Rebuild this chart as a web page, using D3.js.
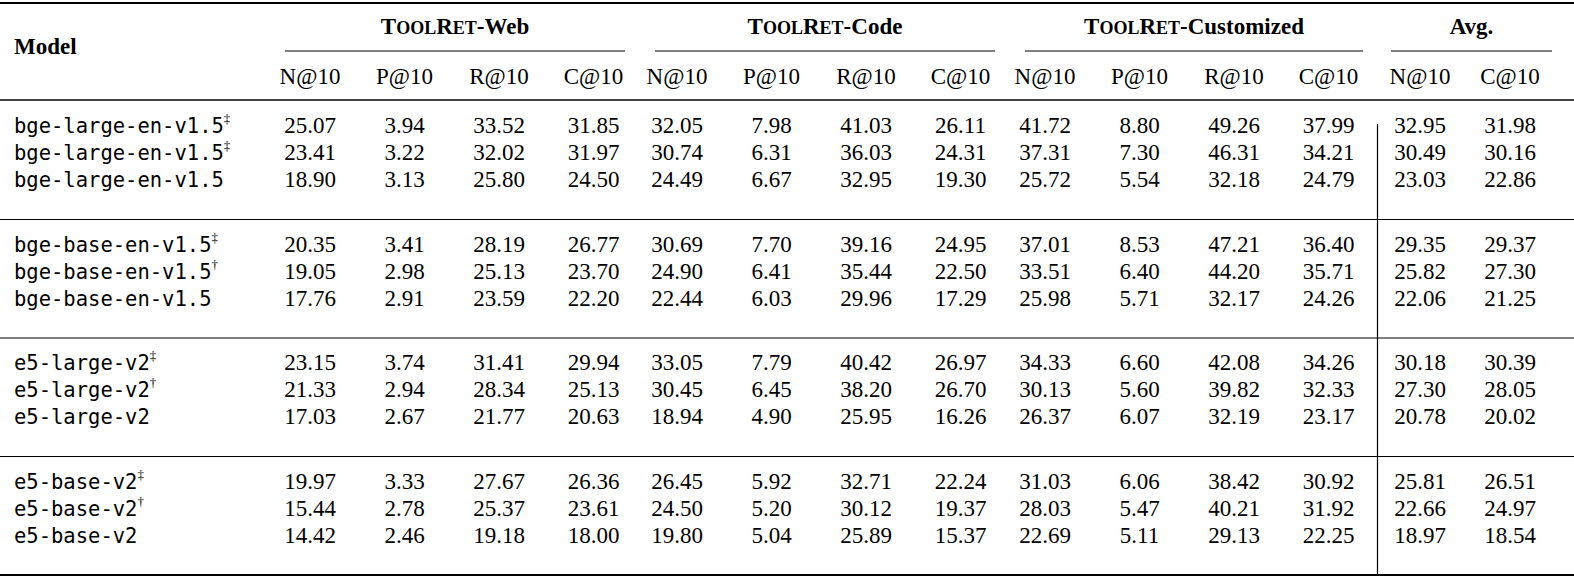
<!DOCTYPE html>
<html><head><meta charset="utf-8">
<script src="https://cdn.jsdelivr.net/npm/d3@7/dist/d3.min.js"></script>
<style>body{margin:0;background:#fff}</style></head>
<body><svg id="c" width="1574" height="582"></svg>
<script>
const groups = ["Web","Code","Customized","Avg."];
const metrics = [["N@10","P@10","R@10","C@10"],["N@10","P@10","R@10","C@10"],["N@10","P@10","R@10","C@10"],["N@10","C@10"]];
const models = ["bge-large-en-v1.5","bge-large-en-v1.5","bge-large-en-v1.5","bge-base-en-v1.5","bge-base-en-v1.5","bge-base-en-v1.5","e5-large-v2","e5-large-v2","e5-large-v2","e5-base-v2","e5-base-v2","e5-base-v2"];
const marks = ["‡","‡","","‡","†","","‡","†","","‡","†",""];
const values = [
[25.07,3.94,33.52,31.85,32.05,7.98,41.03,26.11,41.72,8.80,49.26,37.99,32.95,31.98],
[23.41,3.22,32.02,31.97,30.74,6.31,36.03,24.31,37.31,7.30,46.31,34.21,30.49,30.16],
[18.90,3.13,25.80,24.50,24.49,6.67,32.95,19.30,25.72,5.54,32.18,24.79,23.03,22.86],
[20.35,3.41,28.19,26.77,30.69,7.70,39.16,24.95,37.01,8.53,47.21,36.40,29.35,29.37],
[19.05,2.98,25.13,23.70,24.90,6.41,35.44,22.50,33.51,6.40,44.20,35.71,25.82,27.30],
[17.76,2.91,23.59,22.20,22.44,6.03,29.96,17.29,25.98,5.71,32.17,24.26,22.06,21.25],
[23.15,3.74,31.41,29.94,33.05,7.79,40.42,26.97,34.33,6.60,42.08,34.26,30.18,30.39],
[21.33,2.94,28.34,25.13,30.45,6.45,38.20,26.70,30.13,5.60,39.82,32.33,27.30,28.05],
[17.03,2.67,21.77,20.63,18.94,4.90,25.95,16.26,26.37,6.07,32.19,23.17,20.78,20.02],
[19.97,3.33,27.67,26.36,26.45,5.92,32.71,22.24,31.03,6.06,38.42,30.92,25.81,26.51],
[15.44,2.78,25.37,23.61,24.50,5.20,30.12,19.37,28.03,5.47,40.21,31.92,22.66,24.97],
[14.42,2.46,19.18,18.00,19.80,5.04,25.89,15.37,22.69,5.11,29.13,22.25,18.97,18.54]];

const svg = d3.select("#c");
const serif = "'Liberation Serif','Times New Roman',serif";
const mono = "'DejaVu Sans Mono',monospace";
const cols = [];
metrics.forEach((m,g)=>m.forEach((name,i)=>cols.push({g,i,name})));
const groupStart = d3.scaleOrdinal().domain([0,1,2,3]).range([310,677,1045,1420]);
const colX = k => { const c = cols[k]; return groupStart(c.g) + c.i*(c.g===3 ? 90 : 94.5); };
const groupTop = d3.scaleLinear().domain([0,4]).range([101,575]);
const yRow = r => groupTop(Math.floor(r/3)) + 32 + (r%3)*27;

function line(x1,x2,y,w){svg.append("line").attr("x1",x1).attr("x2",x2).attr("y1",y).attr("y2",y).attr("stroke","#000").attr("stroke-width",w);}
line(0,1574,3,2.2);
line(0,1574,100,1.4);
for(let g=1;g<4;g++) line(0,1574,groupTop(g),1.2);
line(0,1574,575,2.2);
const spans=[[285,625],[655,995],[1025,1363],[1391,1552]];
spans.forEach(s=>line(s[0],s[1],51,1));
svg.append("line").attr("x1",1377.5).attr("x2",1377.5).attr("y1",124).attr("y2",575).attr("stroke","#000").attr("stroke-width",1.2);

svg.append("text").attr("x",14).attr("y",54).attr("font-family",serif).attr("font-weight","bold").attr("font-size",23).text("Model");
groups.forEach((g,i)=>{
  const t = svg.append("text").attr("x",(spans[i][0]+spans[i][1])/2).attr("y",34).attr("text-anchor","middle")
    .attr("font-family",serif).attr("font-weight","bold").attr("font-size",23);
  if(i<3){
    t.append("tspan").text("T");
    t.append("tspan").attr("font-size",18).text("OOL");
    t.append("tspan").text("R");
    t.append("tspan").attr("font-size",18).text("ET");
    t.append("tspan").text("-"+g);
  } else t.text(g);
});
svg.selectAll("text.mh").data(cols).join("text").attr("class","mh")
  .attr("x",(d,k)=>colX(k)).attr("y",84).attr("text-anchor","middle")
  .attr("font-family",serif).attr("font-size",23).text(d=>d.name);

models.forEach((m,r)=>{
  const t = svg.append("text").attr("x",14).attr("y",yRow(r)).attr("font-family",mono).attr("font-size",20.5).text(m);
  if(marks[r]) t.append("tspan").attr("font-family",serif).attr("font-size",13).attr("dy",-10).text(marks[r]);
  values[r].forEach((v,k)=>{
    svg.append("text").attr("x",colX(k)).attr("y",yRow(r)).attr("text-anchor","middle")
      .attr("font-family",serif).attr("font-size",23).text(v.toFixed(2));
  });
});
</script></body></html>
